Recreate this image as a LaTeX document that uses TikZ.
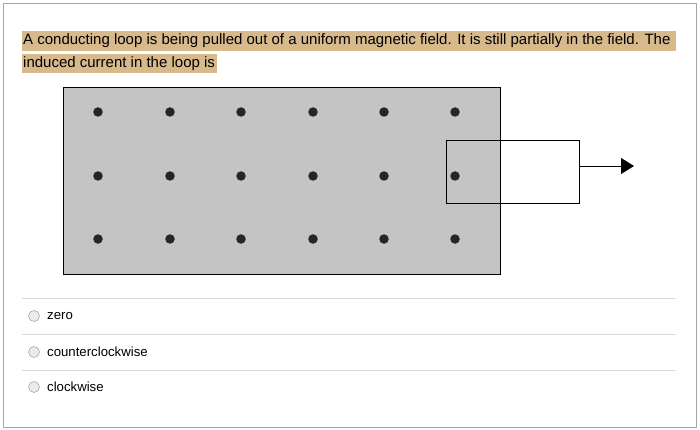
\documentclass[tikz,border=0pt]{standalone}
\usepackage{fontspec}
\setmainfont{Liberation Sans}
\usetikzlibrary{arrows.meta}
\definecolor{hl}{HTML}{D8B98C}
\definecolor{field}{HTML}{C4C4C4}
\tikzset{
  txt/.style={anchor=west,inner sep=0pt,font=\fontsize{15}{18}\selectfont},
  opt/.style={anchor=west,inner sep=0pt,font=\fontsize{13.2}{16}\selectfont},
  dot/.style={circle,fill=black!85,inner sep=0pt,minimum size=9.5pt},
  radio/.style={circle,draw=black!45,fill=black!8,inner sep=0pt,minimum size=11pt},
  sep/.style={draw=black!15,line width=0.8pt}
}
\begin{document}
\begin{tikzpicture}[x=1pt,y=-1pt]
\useasboundingbox (0,0) rectangle (700,430);
\draw[black!35] (3,3) rectangle (696,427);
\fill[hl] (22,31) rectangle (676,51);
\fill[hl] (22,54) rectangle (217,73);
\node[txt] (l1) at (23,41) {A conducting loop is being pulled out of a uniform magnetic field. It is still partially in the field. The};
\node[txt] (l2) at (23,64) {induced current in the loop is};
\draw[fill=field,line width=0.8pt] (63,87) rectangle (500,274);
\foreach \x in {98,170,241,313,384,455}
  \foreach \y in {112,176,239}
    \node[dot] at (\x,\y) {};
\draw[line width=0.9pt] (446,140) rectangle (579,203);
\coordinate (s) at (579,166);
\coordinate (e) at (634,166);
\draw[line width=0.9pt,-{Triangle[length=13pt,width=16pt]}] (s) -- (e);
\foreach \y in {298,334,370} \draw[sep] (22,\y) -- (676,\y);
\node[radio] (r1) at (34,316) {};
\node[radio] (r2) at (34,352) {};
\node[radio] (r3) at (34,387) {};
\node[opt] at (47,316) {zero};
\node[opt] at (47,352) {counterclockwise};
\node[opt] at (47,387) {clockwise};
\end{tikzpicture}
\end{document}
